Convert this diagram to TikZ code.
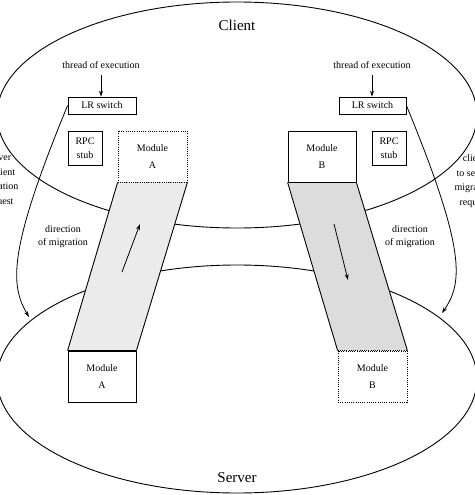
\documentclass[tikz,border=0pt]{standalone}
\usepackage{fontspec}
\setmainfont{Liberation Serif}
\usetikzlibrary{arrows.meta}
\definecolor{shadeA}{HTML}{EBEBEB}
\definecolor{shadeB}{HTML}{DCDCDC}
\tikzset{
  outline/.style={line width=0.9pt},
  box/.style={draw, line width=0.8pt, fill=white, inner sep=0pt, align=center, font=\fontsize{10}{12}\selectfont},
  dotbox/.style={box, dash pattern=on 1pt off 1.2pt},
  lbl/.style={inner sep=0pt, align=center, font=\fontsize{10}{12}\selectfont},
  side/.style={align=center, inner sep=0pt, font=\fontsize{10}{14.5}\selectfont},
  big/.style={inner sep=0pt, font=\fontsize{15}{18}\selectfont},
  arr/.style={line width=0.8pt, -{Stealth[length=6pt,width=4pt]}},
  edge/.style={line width=0.9pt}
}
\begin{document}
\begin{tikzpicture}[x=1pt,y=-1pt]
\useasboundingbox (0,0) rectangle (474,495);
% ellipses
\draw[outline] (237,115) ellipse [x radius=240pt, y radius=113pt];
\draw[outline] (237,379) ellipse [x radius=240pt, y radius=114pt];
\node[big] (client) at (237,25) {Client};
\node[big] (server) at (237,478) {Server};
% module boxes
\node[dotbox, minimum width=69pt, minimum height=51pt] (mAt) at (152.5,156.5) {Module\\[5pt]A};
\node[box, minimum width=68pt, minimum height=51pt] (mBt) at (322,156.5) {Module\\[5pt]B};
\node[box, minimum width=68pt, minimum height=51pt] (mAb) at (102,376.5) {Module\\[5pt]A};
\node[dotbox, minimum width=69pt, minimum height=51pt] (mBb) at (372.5,376.5) {Module\\[5pt]B};
% migration bands
\fill[shadeA] (mAt.south west) -- (mAt.south east) -- (mAb.north east) -- (mAb.north west) -- cycle;
\draw[edge] (mAt.south west) -- (mAb.north west);
\draw[edge] (mAt.south east) -- (mAb.north east);
\fill[shadeB] (mBt.south west) -- (mBt.south east) -- (mBb.north east) -- (mBb.north west) -- cycle;
\draw[edge] (mBt.south west) -- (mBb.north west);
\draw[edge] (mBt.south east) -- (mBb.north east);
% redraw box edges over the bands
\draw[line width=0.8pt, dash pattern=on 1pt off 1.2pt] (mAt.south west) -- (mAt.south east);
\draw[line width=0.8pt] (mBt.south west) -- (mBt.south east);
\draw[line width=0.8pt] (mAb.north west) -- (mAb.north east);
\draw[line width=0.8pt, dash pattern=on 1pt off 1.2pt] (mBb.north west) -- (mBb.north east);
% arrows in bands
\coordinate (aA1) at (122,272);
\coordinate (aA2) at (140,224);
\coordinate (aB1) at (334,224);
\coordinate (aB2) at (348,280);
\draw[arr] (aA1) -- (aA2);
\draw[arr] (aB1) -- (aB2);
% LR switches and RPC stubs
\node[box, minimum width=68pt, minimum height=17pt] (lrA) at (102,105.5) {LR switch};
\node[box, minimum width=67pt, minimum height=17pt] (lrB) at (372.5,105.5) {LR switch};
\node[box, minimum width=34pt, minimum height=34pt] (rpcA) at (85,148) {RPC\\[2pt]stub};
\node[box, minimum width=34pt, minimum height=34pt] (rpcB) at (389,148) {RPC\\[2pt]stub};
% thread of execution
\node[lbl] (thA) at (101,65) {thread of execution};
\node[lbl] (thB) at (372,65) {thread of execution};
\coordinate (sA) at (101,75);
\coordinate (sB) at (372,75);
\draw[arr] (sA) -- (lrA.north -| sA);
\draw[arr] (sB) -- (lrB.north -| sB);
% direction of migration
\node[lbl] (dirA) at (63,236.5) {direction\\[1pt]of migration};
\node[lbl] (dirB) at (410,236.5) {direction\\[1pt]of migration};
% migration requests
\node[side] (reqA) at (-1,181) {server\\to client\\migration\\request};
\node[side] (reqB) at (474,181) {client\\to server\\migration\\request};
\coordinate (tA) at (29,317);
\coordinate (tB) at (442,313);
\draw[arr] (lrA.west) .. controls (8,250) and (10,285) .. (tA);
\draw[arr] (lrB.east) .. controls (466,250) and (463,283) .. (tB);
\end{tikzpicture}
\end{document}
